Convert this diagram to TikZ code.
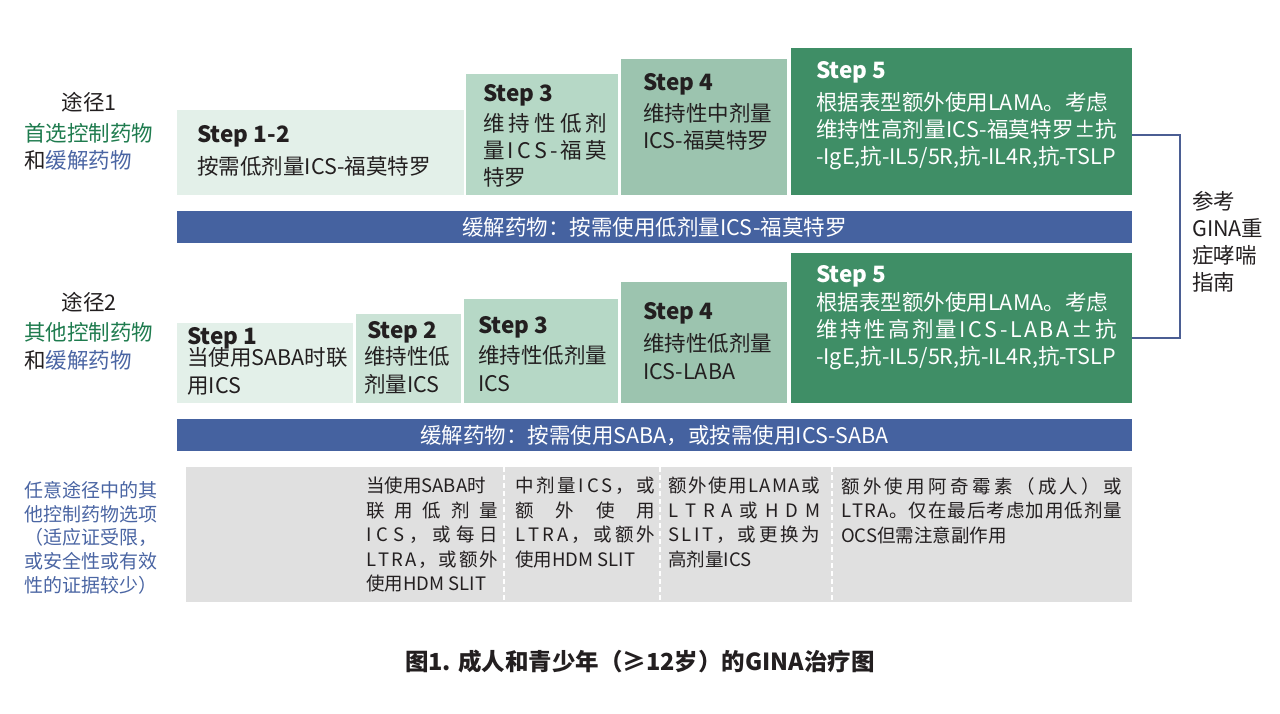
\documentclass[tikz,border=0pt]{standalone}
\usepackage{fontspec}
\setmainfont{Noto Sans CJK SC}
\usetikzlibrary{positioning,calc}
\usepackage{xcolor}

\definecolor{stepA}{HTML}{E3F0E9}
\definecolor{stepB}{HTML}{CBE3D6}
\definecolor{stepC}{HTML}{B6D8C6}
\definecolor{stepD}{HTML}{9CC4AF}
\definecolor{stepE}{HTML}{3F8E66}
\definecolor{relief}{HTML}{4562A0}
\definecolor{optgray}{HTML}{E0E0E0}
\definecolor{ink}{HTML}{231F20}
\definecolor{leafgreen}{HTML}{1E7B4E}
\definecolor{labelblue}{HTML}{4A65A3}
\definecolor{linkblue}{HTML}{4B5E93}

% spread the characters of one line over a given width
\makeatletter
\newcommand{\jline}[2]{\makebox[#1][s]{\jl@next#2\@nil}}
\def\jl@next#1#2\@nil{#1\ifx\relax#2\relax\else\hfill\jl@next#2\@nil\fi}
\makeatother

\tikzset{
  stepbox/.style={inner sep=0pt, outer sep=0pt, anchor=north west},
  steptitle/.style={inner sep=0pt, anchor=base west, font=\bfseries\fontsize{22.5}{27}\selectfont, text=ink},
  stepbody/.style={inner sep=0pt, anchor=north west, align=left, font=\fontsize{21.5}{27}\selectfont, text=ink, execute at begin node=\strut},
  loosebody/.style={stepbody, font=\fontsize{21.5}{28.5}\selectfont},
  optbody/.style={stepbody, font=\fontsize{18.5}{24.5}\selectfont},
  bartext/.style={inner sep=0pt, anchor=base, text=white, font=\fontsize{21.5}{27}\selectfont},
  sidelabel/.style={inner sep=0pt, anchor=base west, font=\fontsize{21.5}{27}\selectfont, text=ink},
  divider/.style={white, line width=1.5pt, dash pattern=on 5pt off 3pt},
  link/.style={draw=linkblue, line width=2.5pt},
}

\begin{document}
\begin{tikzpicture}[x=1pt, y=-1pt]
    \useasboundingbox (0,0) rectangle (1280,713);

    % route 1
    \node[stepbox, fill=stepA, minimum width=287, minimum height=85] (s12) at (177,110) {};
    \node[stepbox, fill=stepC, minimum width=152, minimum height=121] (s3a) at (466,74) {};
    \node[stepbox, fill=stepD, minimum width=166, minimum height=136] (s4a) at (621,59) {};
    \node[stepbox, fill=stepE, minimum width=341, minimum height=147] (s5a) at (791,48) {};
    \node[stepbox, fill=relief, minimum width=955, minimum height=32] (bar1) at (177,211) {};

    \node[steptitle] (t12) at ([shift={(20,32)}]s12.north west) {Step 1-2};
    \node[stepbody, below right=45pt and 20pt of s12.north west] (b12) {按需低剂量ICS-福莫特罗};
    \node[steptitle] (t3a) at ([shift={(17,27)}]s3a.north west) {Step 3};
    \node[stepbody, below right=39pt and 17pt of s3a.north west] (b3a) {\jline{124pt}{维持性低剂}\\\jline{124pt}{量ICS-福莫}\\特罗};
    \node[steptitle] (t4a) at ([shift={(22,31)}]s4a.north west) {Step 4};
    \node[stepbody, below right=44pt and 22pt of s4a.north west] (b4a) {维持性中剂量\\ICS-福莫特罗};
    \node[steptitle, text=white] (t5a) at ([shift={(25,30)}]s5a.north west) {Step 5};
    \node[stepbody, text=white, below right=44pt and 25pt of s5a.north west] (b5a) {根据表型额外使用LAMA。考虑\\\jline{301pt}{维持性高剂量ICS-福莫特罗±抗}\\-IgE,抗-IL5/5R,抗-IL4R,抗-TSLP};
    \node[bartext] (r1) at ([yshift=-8pt]bar1.center) {缓解药物：按需使用低剂量ICS-福莫特罗};

    % route 2
    \node[stepbox, fill=stepA, minimum width=176, minimum height=80] (s1b) at (177,323) {};
    \node[stepbox, fill=stepB, minimum width=105, minimum height=89] (s2b) at (356,314) {};
    \node[stepbox, fill=stepC, minimum width=154, minimum height=104] (s3b) at (464,299) {};
    \node[stepbox, fill=stepD, minimum width=166, minimum height=121] (s4b) at (621,282) {};
    \node[stepbox, fill=stepE, minimum width=341, minimum height=150] (s5b) at (791,253) {};
    \node[stepbox, fill=relief, minimum width=955, minimum height=32] (bar2) at (177,419) {};

    \node[steptitle] (t1b) at ([shift={(10,21)}]s1b.north west) {Step 1};
    \node[loosebody, below right=24pt and 10pt of s1b.north west] (b1b) {当使用SABA时联\\用ICS};
    \node[steptitle] (t2b) at ([shift={(11,24)}]s2b.north west) {Step 2};
    \node[loosebody, below right=32pt and 8pt of s2b.north west] (b2b) {维持性低\\剂量ICS};
    \node[steptitle] (t3b) at ([shift={(14,34)}]s3b.north west) {Step 3};
    \node[loosebody, below right=46pt and 14pt of s3b.north west] (b3b) {维持性低剂量\\ICS};
    \node[steptitle] (t4b) at ([shift={(22,37)}]s4b.north west) {Step 4};
    \node[loosebody, below right=51pt and 22pt of s4b.north west] (b4b) {维持性低剂量\\ICS-LABA};
    \node[steptitle, text=white] (t5b) at ([shift={(25,29)}]s5b.north west) {Step 5};
    \node[stepbody, text=white, below right=39pt and 25pt of s5b.north west] (b5b) {根据表型额外使用LAMA。考虑\\\jline{301pt}{维持性高剂量ICS-LABA±抗}\\-IgE,抗-IL5/5R,抗-IL4R,抗-TSLP};
    \node[bartext] (r2) at ([yshift=-8pt]bar2.center) {缓解药物：按需使用SABA，或按需使用ICS-SABA};

    % other controller options
    \node[stepbox, fill=optgray, minimum width=946, minimum height=135] (opt) at (186,467) {};
    \draw[divider] ($(opt.north west)+(318,0)$) -- ($(opt.south west)+(318,0)$);
    \draw[divider] ($(opt.north west)+(474,0)$) -- ($(opt.south west)+(474,0)$);
    \draw[divider] ($(opt.north west)+(646,0)$) -- ($(opt.south west)+(646,0)$);
    \node[optbody, below right=10pt and 180pt of opt.north west] (o2) {当使用SABA时\\\jline{132pt}{联用低剂量}\\\jline{132pt}{ICS，或每日}\\\jline{132pt}{LTRA，或额外}\\使用HDM SLIT};
    \node[optbody, below right=10pt and 329pt of opt.north west] (o3) {\jline{140pt}{中剂量ICS，或}\\\jline{140pt}{额外使用}\\\jline{140pt}{LTRA，或额外}\\使用HDM SLIT};
    \node[optbody, below right=10pt and 482pt of opt.north west] (o4) {\jline{152pt}{额外使用LAMA或}\\\jline{152pt}{LTRA或HDM}\\\jline{152pt}{SLIT，或更换为}\\高剂量ICS};
    \node[optbody, below right=10pt and 655pt of opt.north west] (o5) {\jline{281pt}{额外使用阿奇霉素（成人）或}\\\jline{281pt}{LTRA。仅在最后考虑加用低剂量}\\OCS但需注意副作用};

    % left labels
    \node[sidelabel, anchor=base] (route1) at (89,110) {途径1};
    \node[sidelabel, text=leafgreen] (ctrl1) at (24,141) {首选控制药物};
    \node[sidelabel] (rel1) at (24,168) {和\textcolor{labelblue}{缓解药物}};
    \node[sidelabel, anchor=base] (route2) at (89,310) {途径2};
    \node[sidelabel, text=leafgreen] (ctrl2) at (24,340) {其他控制药物};
    \node[sidelabel] (rel2) at (24,368) {和\textcolor{labelblue}{缓解药物}};
    \node[stepbody, text=labelblue, font=\fontsize{19}{23.75}\selectfont] (other) at (24,481) {任意途径中的其\\他控制药物选项\\（适应证受限，\\或安全性或有效\\性的证据较少）};

    % severe asthma bracket
    \draw[link] ([yshift=-13.5pt]s5a.east) -- ++(48,0) |- ([yshift=-10pt]s5b.east);
    \node[stepbody, font=\fontsize{21.5}{27}\selectfont] (ref) at (1192,191) {参考\\GINA重\\症哮喘\\指南};

    \node[inner sep=0pt, anchor=base, font=\bfseries\fontsize{23.5}{28}\selectfont, text=ink] (caption) at (640,670) {图1. 成人和青少年（≥12岁）的GINA治疗图};
\end{tikzpicture}
\end{document}
